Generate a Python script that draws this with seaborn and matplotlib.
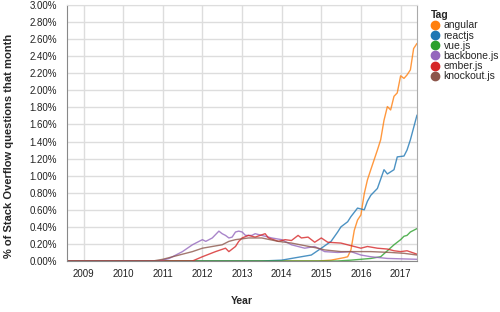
import pandas as pd
import seaborn as sns
import matplotlib.pyplot as plt
import matplotlib.dates as mdates
from matplotlib.lines import Line2D
from matplotlib.ticker import FuncFormatter, MultipleLocator

# share of Stack Overflow questions per month, in percent
angular_months = ["2008-08", "2014-12", "2015-04", "2015-08", "2015-09", "2015-10", "2015-11",
                  "2015-12", "2016-01", "2016-02", "2016-03", "2016-04", "2016-06", "2016-07",
                  "2016-08", "2016-09", "2016-10", "2016-11", "2016-12", "2017-01", "2017-02",
                  "2017-03", "2017-04", "2017-05", "2017-06"]
angular_vals = [0, 0, 0.01, 0.04, 0.05, 0.13, 0.36, 0.48, 0.54, 0.79, 0.95, 1.07, 1.30, 1.42,
                1.65, 1.81, 1.77, 1.93, 1.97, 2.17, 2.14, 2.18, 2.24, 2.49, 2.55]

react_months = ["2008-08", "2013-07", "2014-01", "2014-04", "2014-07", "2014-10", "2015-01",
                "2015-04", "2015-06", "2015-07", "2015-09", "2015-10", "2015-12", "2016-02",
                "2016-03", "2016-04", "2016-06", "2016-08", "2016-09", "2016-11", "2016-12",
                "2017-02", "2017-03", "2017-04", "2017-06"]
react_vals = [0, 0, 0.01, 0.03, 0.05, 0.07, 0.15, 0.23, 0.34, 0.40, 0.46, 0.52, 0.62, 0.60,
              0.70, 0.77, 0.85, 1.07, 1.02, 1.07, 1.22, 1.23, 1.30, 1.42, 1.71]

vue_months = ["2008-08", "2015-06", "2015-10", "2016-01", "2016-04", "2016-07", "2016-09",
              "2016-11", "2017-01", "2017-02", "2017-03", "2017-04", "2017-06"]
vue_vals = [0, 0, 0.01, 0.02, 0.03, 0.05, 0.12, 0.19, 0.25, 0.29, 0.30, 0.34, 0.38]

backbone_months = ["2008-08", "2010-12", "2011-03", "2011-07", "2011-10", "2011-12", "2012-01",
                   "2012-02", "2012-04", "2012-06", "2012-07", "2012-08", "2012-09", "2012-10",
                   "2012-11", "2012-12", "2013-01", "2013-02", "2013-04", "2013-05", "2013-07",
                   "2013-10", "2014-01", "2014-04", "2014-06", "2014-08", "2014-11", "2015-02",
                   "2015-06", "2015-10", "2016-01", "2016-04", "2016-09", "2017-06"]
backbone_vals = [0, 0, 0.03, 0.11, 0.19, 0.23, 0.25, 0.23, 0.27, 0.35, 0.32, 0.30, 0.27, 0.28,
                 0.34, 0.35, 0.34, 0.30, 0.30, 0.32, 0.30, 0.27, 0.25, 0.19, 0.17, 0.15, 0.17,
                 0.11, 0.10, 0.11, 0.07, 0.05, 0.03, 0.02]

ember_months = ["2008-08", "2011-10", "2012-01", "2012-05", "2012-08", "2012-09", "2012-11",
                "2012-12", "2013-01", "2013-03", "2013-05", "2013-08", "2013-09", "2013-12",
                "2014-02", "2014-04", "2014-06", "2014-07", "2014-09", "2014-11", "2015-01",
                "2015-03", "2015-07", "2015-10", "2016-01", "2016-03", "2016-06", "2016-09",
                "2016-11", "2017-01", "2017-03", "2017-06"]
ember_vals = [0, 0, 0.05, 0.11, 0.15, 0.11, 0.17, 0.23, 0.27, 0.30, 0.28, 0.32, 0.27, 0.23,
              0.25, 0.24, 0.30, 0.27, 0.28, 0.22, 0.27, 0.22, 0.21, 0.18, 0.15, 0.17, 0.15,
              0.14, 0.12, 0.11, 0.12, 0.08]

knockout_months = ["2008-08", "2010-10", "2011-01", "2011-06", "2011-10", "2012-01", "2012-04",
                   "2012-07", "2012-09", "2012-11", "2013-03", "2013-07", "2013-12", "2014-04",
                   "2014-08", "2014-12", "2015-02", "2015-07", "2016-04", "2016-10", "2017-02",
                   "2017-06"]
knockout_vals = [0, 0, 0.02, 0.07, 0.11, 0.15, 0.17, 0.19, 0.23, 0.25, 0.27, 0.27, 0.23, 0.21,
                 0.18, 0.15, 0.13, 0.11, 0.11, 0.10, 0.09, 0.07]

tags = ["angular", "reactjs", "vue.js", "backbone.js", "ember.js", "knockout.js"]
colors = ["#ff7f0e", "#1f77b4", "#2ca02c", "#9467bd", "#d62728", "#8c564b"]

series = {
    "angular": (angular_months, angular_vals),
    "reactjs": (react_months, react_vals),
    "vue.js": (vue_months, vue_vals),
    "backbone.js": (backbone_months, backbone_vals),
    "ember.js": (ember_months, ember_vals),
    "knockout.js": (knockout_months, knockout_vals),
}

frames = []
for tag in tags:
    months, vals = series[tag]
    frames.append(pd.DataFrame({"Year": pd.to_datetime(months), "pct": vals, "Tag": tag}))
df = pd.concat(frames, ignore_index=True)

sns.set_style("white")
plt.rcParams["font.family"] = ["Liberation Sans", "DejaVu Sans"]

fig = plt.figure(figsize=(5, 3.12), dpi=100)
ax = fig.add_axes([67 / 500, 51 / 312, 350 / 500, 256 / 312])

sns.lineplot(data=df, x="Year", y="pct", hue="Tag", hue_order=tags, palette=colors,
             linewidth=1.0, alpha=0.8, legend=False, ax=ax)

ax.set_xlim(pd.Timestamp("2008-08-01"), pd.Timestamp("2017-06-01"))
ax.set_ylim(0, 3.0)
ax.yaxis.set_major_locator(MultipleLocator(0.2))
ax.yaxis.set_major_formatter(FuncFormatter(lambda v, p: f"{v:.2f}%"))
ax.xaxis.set_major_locator(mdates.YearLocator())
ax.xaxis.set_major_formatter(mdates.DateFormatter("%Y"))

ax.grid(True, color="#dddddd", linewidth=1.0)
ax.set_axisbelow(True)
for side in ["left", "bottom"]:
    ax.spines[side].set_color("#888888")
ax.spines["right"].set_color("#aaaaaa")
ax.spines["top"].set_color("#dddddd")
ax.tick_params(axis="both", length=5, width=1, color="#888888", labelsize=7,
               labelcolor="#222222", pad=2)
ax.tick_params(axis="x", pad=1)

ax.set_xlabel("Year", fontsize=7.5, fontweight="bold", labelpad=12)
ax.set_ylabel("% of Stack Overflow questions that month", fontsize=8, fontweight="bold")
ax.yaxis.set_label_coords(-0.152, 0.45)

handles = [Line2D([], [], marker="o", linestyle="", markersize=6, markerfacecolor=c,
                  markeredgecolor=c) for c in colors]
leg = fig.legend(handles, tags, title="Tag", loc="upper left", bbox_to_anchor=(426 / 500, 1 - 5 / 312),
                 frameon=False, fontsize=7.5, handlelength=0.7, handletextpad=0.5,
                 labelspacing=0.02, borderpad=0, alignment="left",
                 title_fontproperties={"weight": "bold", "size": 7.5})

fig.savefig("out.png", dpi=100)
